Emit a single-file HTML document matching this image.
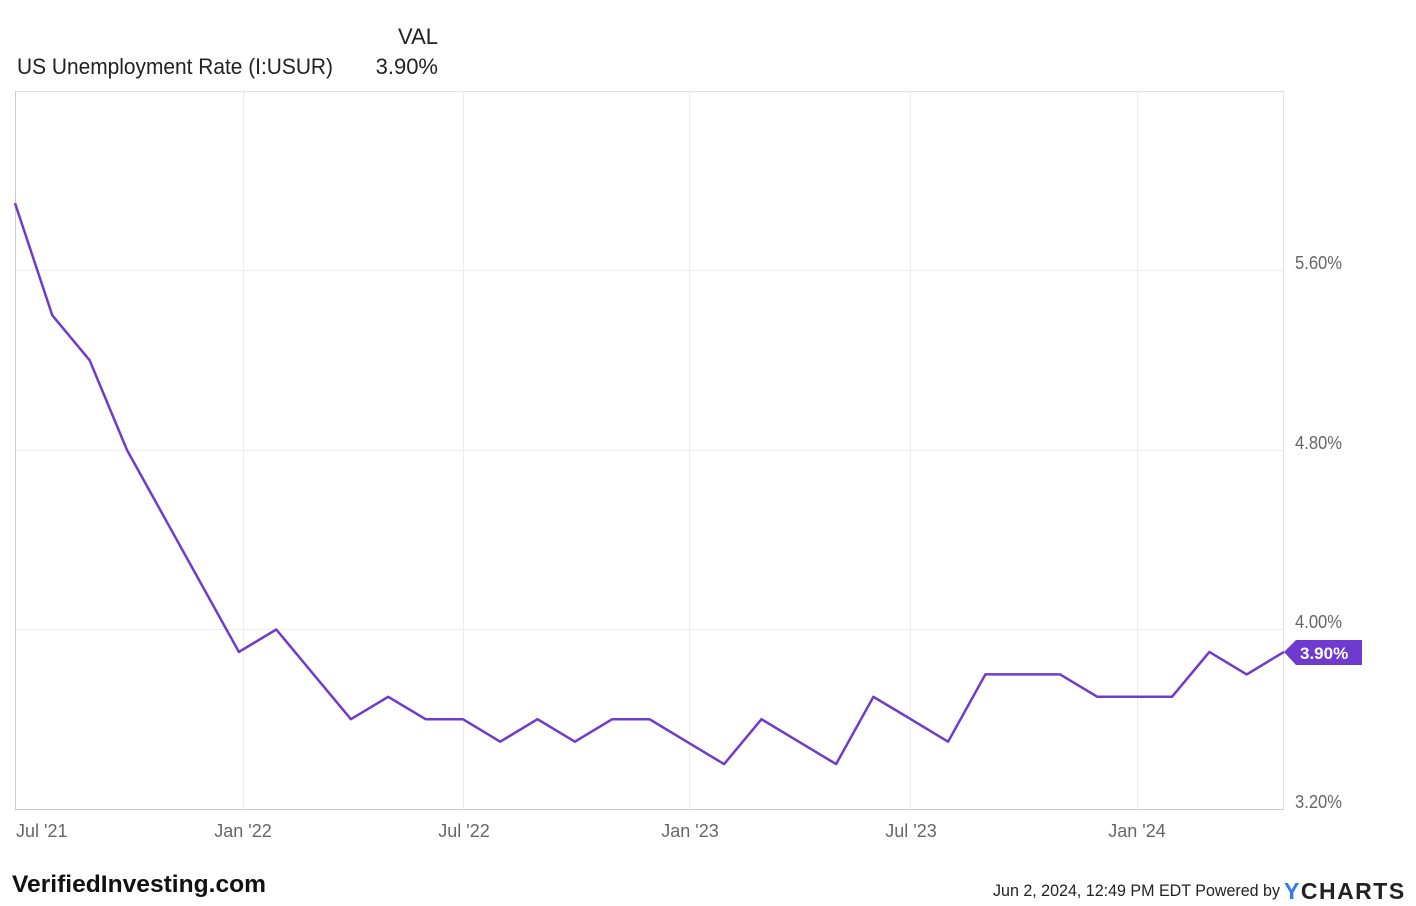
<!DOCTYPE html>
<html><head><meta charset="utf-8"><style>
html,body{margin:0;padding:0;background:#fff;width:1416px;height:906px;overflow:hidden}
svg{display:block;font-family:"Liberation Sans",sans-serif}
</style></head><body>
<svg width="1416" height="906" xmlns="http://www.w3.org/2000/svg">
<text x="438" y="44" font-size="22" text-anchor="end" fill="#222">VAL</text>
<text x="17" y="74" font-size="22" fill="#222" textLength="316" lengthAdjust="spacingAndGlyphs">US Unemployment Rate (I:USUR)</text>
<text x="438" y="74" font-size="22" text-anchor="end" fill="#222">3.90%</text>
<rect x="15.5" y="91.5" width="1268" height="718" fill="none" stroke="#e2e2e2"/>
<g stroke="#ececec" stroke-width="1">
<line x1="15" y1="270.5" x2="1284" y2="270.5"/>
<line x1="15" y1="450.5" x2="1284" y2="450.5"/>
<line x1="15" y1="629.5" x2="1284" y2="629.5"/>
<line x1="243.5" y1="91" x2="243.5" y2="809"/>
<line x1="463.5" y1="91" x2="463.5" y2="809"/>
<line x1="689.5" y1="91" x2="689.5" y2="809"/>
<line x1="910.5" y1="91" x2="910.5" y2="809"/>
<line x1="1137.5" y1="91" x2="1137.5" y2="809"/>
</g>
<line x1="15" y1="809.5" x2="1284" y2="809.5" stroke="#ccc"/>
<line x1="15.5" y1="91" x2="15.5" y2="809" stroke="#ccc"/>
<g font-size="18" fill="#666">
<text x="1295" y="269" textLength="47" lengthAdjust="spacingAndGlyphs">5.60%</text>
<text x="1295" y="449" textLength="47" lengthAdjust="spacingAndGlyphs">4.80%</text>
<text x="1295" y="628" textLength="47" lengthAdjust="spacingAndGlyphs">4.00%</text>
<text x="1295" y="808" textLength="47" lengthAdjust="spacingAndGlyphs">3.20%</text>
<text x="16" y="837">Jul '21</text>
<text x="243" y="837" text-anchor="middle">Jan '22</text>
<text x="464" y="837" text-anchor="middle">Jul '22</text>
<text x="690" y="837" text-anchor="middle">Jan '23</text>
<text x="911" y="837" text-anchor="middle">Jul '23</text>
<text x="1137" y="837" text-anchor="middle">Jan '24</text>
</g>
<polyline id="ln" fill="none" stroke="#6f3ad0" stroke-width="2.5" stroke-linejoin="round" points=""/>
<polygon points="1284,652 1296,640 1362,640 1362,665 1296,665" fill="#6f3ad0"/>
<text x="1300" y="659" font-size="17" font-weight="bold" fill="#fff">3.90%</text>
<text x="12" y="892" font-size="24" font-weight="bold" fill="#111" textLength="254" lengthAdjust="spacingAndGlyphs">VerifiedInvesting.com</text>
<text x="993" y="896" font-size="17" fill="#222" textLength="287" lengthAdjust="spacingAndGlyphs">Jun 2, 2024, 12:49 PM EDT Powered by</text>
<text x="1284" y="899" font-size="23" font-weight="bold" fill="#222" letter-spacing="1.5"><tspan fill="#2b7de9">Y</tspan>CHARTS</text>
</svg>
<script>
var v=[5.9,5.4,5.2,4.8,4.5,4.2,3.9,4.0,3.8,3.6,3.7,3.6,3.6,3.5,3.6,3.5,3.6,3.6,3.5,3.4,3.6,3.5,3.4,3.7,3.6,3.5,3.8,3.8,3.8,3.7,3.7,3.7,3.9,3.8,3.9];
var p=v.map(function(d,i){return (15+i*1269/34).toFixed(1)+","+(809-(d-3.2)*224.4).toFixed(1)}).join(" ");
document.getElementById("ln").setAttribute("points",p);
</script>
</body></html>
